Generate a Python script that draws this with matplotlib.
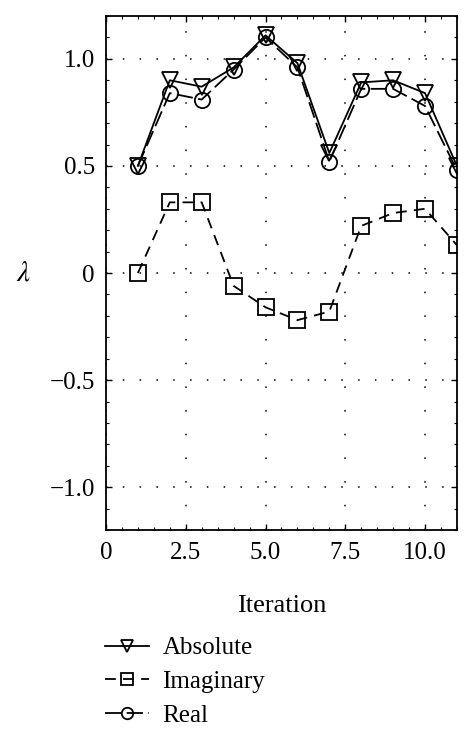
import matplotlib.pyplot as plt
from matplotlib.ticker import MultipleLocator

# Data
iteration = [1, 2, 3, 4, 5, 6, 7, 8, 9, 10, 11]
absolute = [0.50, 0.90, 0.87, 0.96, 1.11, 0.98, 0.56, 0.89, 0.90, 0.84, 0.50]
imaginary = [0.00, 0.33, 0.33, -0.06, -0.16, -0.22, -0.18, 0.22, 0.28, 0.30, 0.13]
real = [0.50, 0.84, 0.81, 0.95, 1.10, 0.96, 0.52, 0.86, 0.86, 0.78, 0.48]

xticks = [0, 2.5, 5.0, 7.5, 10.0]
xticklabels = ['0', '2.5', '5.0', '7.5', '10.0']
yticks = [-1.0, -0.5, 0, 0.5, 1.0]
yticklabels = ['\u22121.0', '\u22120.5', '0', '0.5', '1.0']

plt.rcParams['font.family'] = ['Liberation Serif', 'DejaVu Serif']
plt.rcParams['mathtext.fontset'] = 'stix'

fig = plt.figure(figsize=(4.74, 7.49), dpi=100)
ax = fig.add_axes([0.2236, 0.2924, 0.7404, 0.6862])

mk = dict(color='black', markerfacecolor='none', markeredgecolor='black',
          markersize=11, markeredgewidth=1.3, linewidth=1.3)
ax.plot(iteration, absolute, '-', marker='v', label='Absolute', **mk)
ax.plot(iteration, imaginary, marker='s', dashes=(6, 4), label='Imaginary', **mk)
ax.plot(iteration, real, marker='o', dashes=(9, 3), label='Real', **mk)

ax.set_xlim(0, 11)
ax.set_ylim(-1.2, 1.2)
ax.set_xticks(xticks)
ax.set_xticklabels(xticklabels)
ax.set_yticks(yticks)
ax.set_yticklabels(yticklabels)
ax.xaxis.set_minor_locator(MultipleLocator(0.5))
ax.yaxis.set_minor_locator(MultipleLocator(0.1))
ax.tick_params(which='both', direction='in', top=True, right=True, labelsize=18)
ax.tick_params(which='major', length=4, width=1)
ax.tick_params(which='minor', length=2, width=0.8)
ax.tick_params(axis='x', pad=9)
ax.tick_params(axis='y', pad=8)
ax.xaxis.grid(True, which='major', linestyle=(0, (1, 14.5)), color='black', linewidth=1.1)
ax.yaxis.grid(True, which='major', linestyle=(0, (1, 10)), color='black', linewidth=1.1)
for s in ax.spines.values():
    s.set_linewidth(1.3)

ax.set_xlabel('Iteration', fontsize=19, labelpad=22)
ax.set_ylabel(r'$\lambda$', fontsize=21, rotation=0, va='center')
ax.yaxis.set_label_coords(-0.235, 0.5)

fig.legend(loc='upper left', bbox_to_anchor=(0.2, 0.163), frameon=False,
           fontsize=18, handlelength=1.75, handletextpad=0.55, labelspacing=0.45,
           markerscale=0.75, borderaxespad=0)

fig.savefig('out.png', dpi=100)
